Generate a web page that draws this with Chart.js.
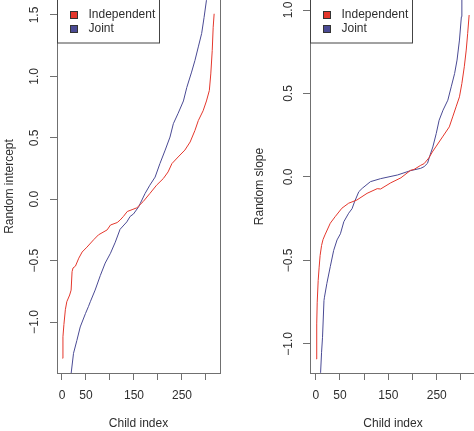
<!DOCTYPE html>
<html>
<head>
<meta charset="utf-8">
<script src="https://cdn.jsdelivr.net/npm/chart.js@4"></script>
<style>
  html, body { margin: 0; padding: 0; background: #fff; overflow: hidden; }
  #wrap { position: relative; width: 474px; height: 431px; overflow: hidden; }
  canvas { position: absolute; top: 0; }
  #left { left: 0; }
  #right { left: 237px; }
</style>
</head>
<body>
<div id="wrap">
  <canvas id="left" width="237" height="431"></canvas>
  <canvas id="right" width="242" height="431"></canvas>
</div>
<script>
// ---- data ----
const seriesNames = ['Independent', 'Joint'];
const xTicks = [0, 50, 100, 150, 200, 250, 300];
const xTickLabels = [0, 50, 150, 250];

// left panel: random intercept, sorted by child
const interceptTicks = [-1.0, -0.5, 0.0, 0.5, 1.0, 1.5];
const interceptIndepIdx = [1, 2, 4, 7, 10, 16, 19, 21, 23, 28, 35, 42, 52, 66, 76, 94, 101, 115, 121, 128, 136, 146, 156,
  169, 183, 197, 211, 221, 229, 242, 256, 267, 277, 284, 294, 301, 307, 310, 313, 315, 317];
const interceptIndepVal = [-1.295, -1.12, -1.02, -0.90, -0.835, -0.78, -0.74, -0.59, -0.56, -0.545, -0.48, -0.43, -0.39,
  -0.33, -0.29, -0.25, -0.21, -0.19, -0.17, -0.14, -0.10, -0.085, -0.07,
  -0.02, 0.046, 0.114, 0.168, 0.222, 0.29, 0.344, 0.40, 0.466, 0.56, 0.64, 0.72, 0.80, 0.886, 1.02, 1.21, 1.40, 1.51];
const interceptJointIdx = [17, 19, 24, 31, 38, 49, 55, 59, 69, 80, 90, 101, 111, 121, 135, 142, 149, 160, 163, 173, 183,
  194, 204, 215, 225, 232, 242, 253, 260, 270, 277, 284, 291, 296, 301, 308, 317];
const interceptJointVal = [-1.50, -1.42, -1.255, -1.15, -1.04, -0.93, -0.875, -0.835, -0.74, -0.62, -0.52, -0.44, -0.35,
  -0.245, -0.185, -0.14, -0.12, -0.06, -0.035, 0.046, 0.114, 0.18, 0.29, 0.40, 0.506, 0.615, 0.70, 0.80, 0.91, 1.035,
  1.13, 1.24, 1.35, 1.48, 1.62, 1.80, 2.10];

// right panel: random slope, sorted by child
const slopeTicks = [-1.0, -0.5, 0.0, 0.5, 1.0];
const slopeIndepIdx = [1, 2, 3, 5, 7, 9, 12, 15, 19, 30, 40, 54, 68, 85, 106, 127, 134, 155, 176, 196, 203, 217, 224,
  234, 241, 248, 262, 276, 283, 290, 297, 302, 307, 311, 314, 317];
const slopeIndepVal = [-1.09, -0.88, -0.75, -0.62, -0.54, -0.47, -0.41, -0.375, -0.347, -0.277, -0.238, -0.187, -0.157,
  -0.138, -0.098, -0.07, -0.072, -0.035, -0.005, 0.04, 0.045, 0.07, 0.08, 0.115, 0.15, 0.18, 0.24, 0.30, 0.36, 0.42,
  0.48, 0.56, 0.66, 0.76, 0.86, 0.97];
const slopeJointIdx = [9, 10, 12, 14, 17, 18, 23, 30, 37, 44, 51, 58, 68, 75, 80, 89, 96, 113, 134, 169, 196, 217, 224,
  231, 235, 242, 249, 255, 263, 273, 280, 287, 292, 297, 301, 302, 310, 317];
const slopeJointVal = [-1.25, -1.17, -1.05, -0.96, -0.74, -0.72, -0.637, -0.537, -0.44, -0.377, -0.34, -0.268, -0.217,
  -0.19, -0.15, -0.088, -0.068, -0.028, -0.01, 0.012, 0.038, 0.052, 0.062, 0.082, 0.12, 0.18, 0.26, 0.34, 0.40, 0.46,
  0.54, 0.62, 0.70, 0.82, 0.96, 1.06, 1.25, 1.45];

// ---- style ----
const colors = ['#E4372C', '#4A4A94'];
const axisColor = '#707070';
const textColor = '#2e2e2e';
const fontFamily = '"Liberation Sans", Arial, Helvetica, sans-serif';

Chart.defaults.font.family = fontFamily;
Chart.defaults.font.size = 12;
Chart.defaults.color = textColor;

const fmt = v => (v < 0 ? '\u2212' : '') + Math.abs(v).toFixed(1);

// draws right box edge, rotated y tick labels and the legend
const decorPlugin = {
  id: 'decor',
  afterDraw(chart, args, opts) {
    const { ctx, chartArea: a } = chart;
    const y = chart.scales.y;
    ctx.save();
    ctx.strokeStyle = axisColor;
    ctx.lineWidth = 1;
    ctx.beginPath();
    ctx.moveTo(Math.round(a.right) + 0.5, a.top - 2);
    ctx.lineTo(Math.round(a.right) + 0.5, a.bottom + 0.5);
    ctx.stroke();

    ctx.fillStyle = textColor;
    ctx.font = '12px ' + fontFamily;
    ctx.textAlign = 'center';
    ctx.textBaseline = 'middle';
    opts.ticks.forEach(v => {
      ctx.save();
      ctx.translate(opts.labelX, y.getPixelForValue(v));
      ctx.rotate(-Math.PI / 2);
      ctx.fillText(fmt(v), 0, 0);
      ctx.restore();
    });

    // legend in the top-left corner
    const lx = Math.round(a.left) + 0.5;
    ctx.strokeStyle = '#444';
    ctx.strokeRect(lx, a.top - 5, 102, 48);
    chart.data.datasets.forEach((ds, i) => {
      const cy = 15 + i * 14;
      ctx.fillStyle = ds.borderColor;
      ctx.fillRect(lx + 13, cy - 3.5, 7, 7);
      ctx.strokeStyle = '#333';
      ctx.strokeRect(lx + 13, cy - 3.5, 7, 7);
      ctx.fillStyle = textColor;
      ctx.textAlign = 'left';
      ctx.fillText(ds.label, lx + 31, cy);
    });
    ctx.restore();
  }
};

function makePanel(canvasId, cfg) {
  const datasets = cfg.series.map((s, i) => ({
    label: seriesNames[i],
    data: s.idx.map((x, k) => ({ x: x, y: s.val[k] })),
    showLine: true,
    borderColor: colors[i],
    backgroundColor: colors[i],
    borderWidth: 1,
    pointRadius: 0,
    tension: 0
  }));
  return new Chart(document.getElementById(canvasId), {
    type: 'scatter',
    data: { datasets },
    options: {
      responsive: false,
      animation: false,
      devicePixelRatio: 1,
      layout: { padding: { left: 0, right: cfg.padRight, top: 0, bottom: 0 } },
      scales: {
        x: {
          type: 'linear',
          min: cfg.xMin,
          max: cfg.xMax,
          afterBuildTicks: s => { s.ticks = xTicks.map(v => ({ value: v })); },
          afterFit: s => { s.height = 58; },
          ticks: {
            autoSkip: false,
            maxRotation: 0,
            padding: 8,
            callback: v => xTickLabels.includes(v) ? String(v) : ''
          },
          grid: { drawOnChartArea: false, drawTicks: true, tickLength: 7, color: axisColor },
          border: { color: axisColor },
          title: { display: true, text: 'Child index', font: { size: 12 }, padding: { top: 0, bottom: 0 } }
        },
        y: {
          type: 'linear',
          min: cfg.yMin,
          max: cfg.yMax,
          afterBuildTicks: s => { s.ticks = cfg.yTicks.map(v => ({ value: v })); },
          afterFit: s => { s.width = cfg.yWidth; },
          ticks: { display: false },
          grid: { drawOnChartArea: false, drawTicks: true, tickLength: 7, color: axisColor },
          border: { color: axisColor },
          title: { display: true, text: cfg.yTitle, font: { size: 12 }, padding: { top: cfg.titlePad, bottom: 0 } }
        }
      },
      plugins: {
        legend: { display: false },
        tooltip: { enabled: false },
        decor: { ticks: cfg.yTicks, labelX: cfg.labelX }
      }
    },
    plugins: [decorPlugin]
  });
}

makePanel('left', {
  series: [
    { idx: interceptIndepIdx, val: interceptIndepVal },
    { idx: interceptJointIdx, val: interceptJointVal }
  ],
  yTicks: interceptTicks,
  yTitle: 'Random intercept',
  xMin: -10.4, xMax: 329.2,
  yMin: -1.415, yMax: 1.622,
  yWidth: 57, padRight: 17, titlePad: 2, labelX: 35
});

makePanel('right', {
  series: [
    { idx: slopeIndepIdx, val: slopeIndepVal },
    { idx: slopeJointIdx, val: slopeJointVal }
  ],
  yTicks: slopeTicks,
  yTitle: 'Random slope',
  xMin: -11.9, xMax: 331.2,
  yMin: -1.174, yMax: 1.06,
  yWidth: 73, padRight: 3, titlePad: 15, labelX: 52
});
</script>
</body>
</html>
